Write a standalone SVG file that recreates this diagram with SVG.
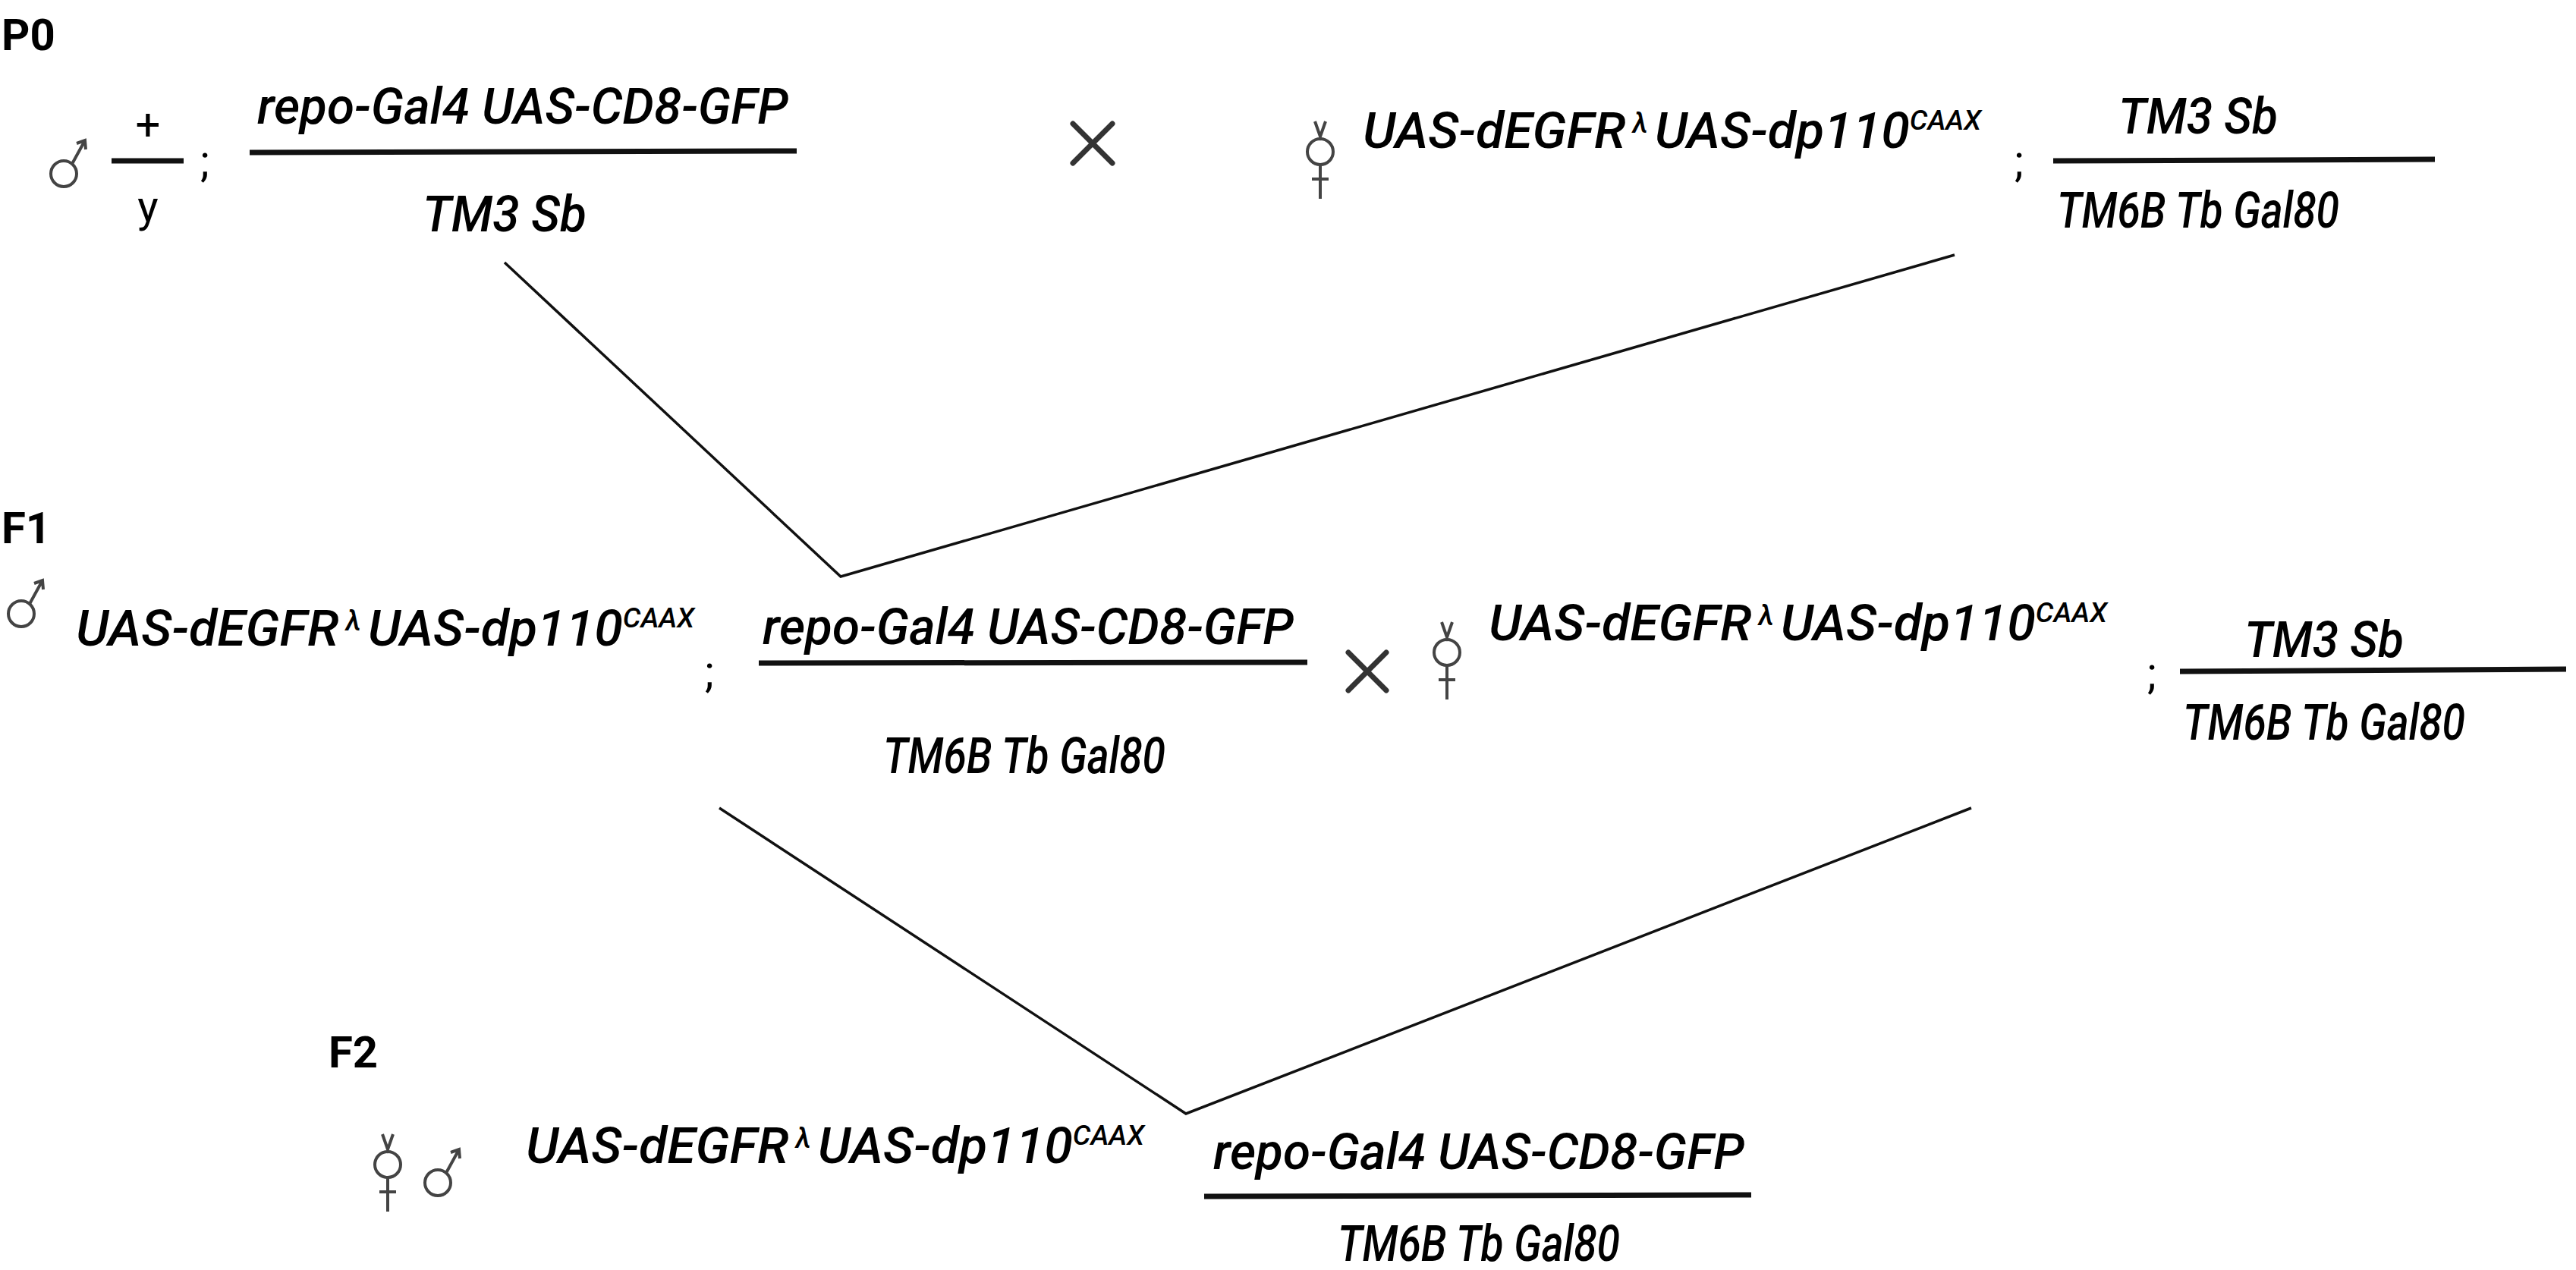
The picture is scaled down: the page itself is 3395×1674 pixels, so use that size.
<svg xmlns="http://www.w3.org/2000/svg" width="3395" height="1674" viewBox="0 0 3395 1674">
<style>
.t{font-family:Roboto,"Liberation Sans",sans-serif;font-style:italic;font-weight:500;font-size:66px;fill:#000}
.n{font-family:Roboto,"Liberation Sans",sans-serif;font-size:58px;fill:#000}
.h{font-family:Roboto,"Liberation Sans",sans-serif;font-weight:bold;font-size:58px;fill:#000}
.sup{font-size:36px}
.bar{stroke:#111;stroke-width:7}
.sym{fill:none;stroke:#444;stroke-width:4}
.x{stroke:#333;stroke-width:7;stroke-linecap:round}
.con{fill:none;stroke:#111;stroke-width:3.5}
</style>
<defs>
<g id="male"><circle cx="0" cy="14" r="17" class="sym"/><path d="M11 1 L28 -30 M17 -26 L28 -30 L29 -18" class="sym"/></g>
<g id="female"><path d="M-7 -50 L0 -30 L7 -50" class="sym"/><circle cx="0" cy="-10" r="17" class="sym"/><path d="M0 7 L0 52 M-11 26 L11 26" class="sym"/></g>
</defs>
<g id="labels">
<text class="h" x="2" y="66">P0</text>
<text class="h" x="2" y="716">F1</text>
<text class="h" x="433" y="1407">F2</text>
</g>
<g id="p0-male">
<use href="#male" x="84" y="215"/>
<text class="n" x="195" y="184" text-anchor="middle">+</text>
<line x1="147" y1="212" x2="242" y2="212" class="bar" stroke-width="5"/>
<text class="n" x="195" y="292" text-anchor="middle">y</text>
<text class="n" x="270" y="232" text-anchor="middle">;</text>
<text class="t" x="689" y="163" text-anchor="middle" textLength="700" lengthAdjust="spacingAndGlyphs">repo-Gal4 UAS-CD8-GFP</text>
<line x1="329" y1="201" x2="1050" y2="199" class="bar"/>
<text class="t" x="665" y="305" text-anchor="middle" textLength="216" lengthAdjust="spacingAndGlyphs">TM3 Sb</text>
</g>
<g id="p0-cross"><path d="M1414 163 L1466 215 M1466 163 L1414 215" class="x"/></g>
<g id="p0-female">
<use href="#female" x="1740" y="210"/>
<text class="t" x="1796" y="195" textLength="815" lengthAdjust="spacingAndGlyphs">UAS-dEGFR<tspan class="sup" dy="-20"> λ </tspan><tspan dy="20">UAS-dp110</tspan><tspan class="sup" dy="-24">CAAX</tspan></text>
<text class="n" x="2661" y="232" text-anchor="middle">;</text>
<text class="t" x="2897" y="176" text-anchor="middle" textLength="210" lengthAdjust="spacingAndGlyphs">TM3 Sb</text>
<line x1="2706" y1="212" x2="3209" y2="210" class="bar"/>
<text class="t" x="2897" y="300" text-anchor="middle" textLength="372" lengthAdjust="spacingAndGlyphs">TM6B Tb Gal80</text>
</g>
<g id="f1-male">
<use href="#male" x="28" y="795"/>
<text class="t" x="100" y="851" textLength="815" lengthAdjust="spacingAndGlyphs">UAS-dEGFR<tspan class="sup" dy="-20"> λ </tspan><tspan dy="20">UAS-dp110</tspan><tspan class="sup" dy="-24">CAAX</tspan></text>
<text class="n" x="935" y="905" text-anchor="middle">;</text>
<text class="t" x="1355" y="849" text-anchor="middle" textLength="700" lengthAdjust="spacingAndGlyphs">repo-Gal4 UAS-CD8-GFP</text>
<line x1="1000" y1="874" x2="1723" y2="873" class="bar"/>
<text class="t" x="1350" y="1019" text-anchor="middle" textLength="372" lengthAdjust="spacingAndGlyphs">TM6B Tb Gal80</text>
</g>
<g id="f1-cross"><path d="M1777 860 L1827 910 M1827 860 L1777 910" class="x"/></g>
<g id="f1-female">
<use href="#female" x="1907" y="870"/>
<text class="t" x="1962" y="844" textLength="815" lengthAdjust="spacingAndGlyphs">UAS-dEGFR<tspan class="sup" dy="-20"> λ </tspan><tspan dy="20">UAS-dp110</tspan><tspan class="sup" dy="-24">CAAX</tspan></text>
<text class="n" x="2836" y="907" text-anchor="middle">;</text>
<text class="t" x="3063" y="866" text-anchor="middle" textLength="210" lengthAdjust="spacingAndGlyphs">TM3 Sb</text>
<line x1="2873" y1="885" x2="3382" y2="882" class="bar"/>
<text class="t" x="3063" y="975" text-anchor="middle" textLength="372" lengthAdjust="spacingAndGlyphs">TM6B Tb Gal80</text>
</g>
<g id="f2">
<use href="#female" x="511" y="1545"/>
<use href="#male" x="577" y="1545"/>
<text class="t" x="693" y="1533" textLength="815" lengthAdjust="spacingAndGlyphs">UAS-dEGFR<tspan class="sup" dy="-20"> λ </tspan><tspan dy="20">UAS-dp110</tspan><tspan class="sup" dy="-24">CAAX</tspan></text>
<text class="t" x="1949" y="1541" text-anchor="middle" textLength="700" lengthAdjust="spacingAndGlyphs">repo-Gal4 UAS-CD8-GFP</text>
<line x1="1587" y1="1577" x2="2308" y2="1575" class="bar"/>
<text class="t" x="1949" y="1662" text-anchor="middle" textLength="372" lengthAdjust="spacingAndGlyphs">TM6B Tb Gal80</text>
</g>
<g id="connectors">
<path d="M665 346 L1108 760 L2576 336" class="con"/>
<path d="M948 1065 L1563 1468 L2598 1065" class="con"/>
</g>
</svg>
